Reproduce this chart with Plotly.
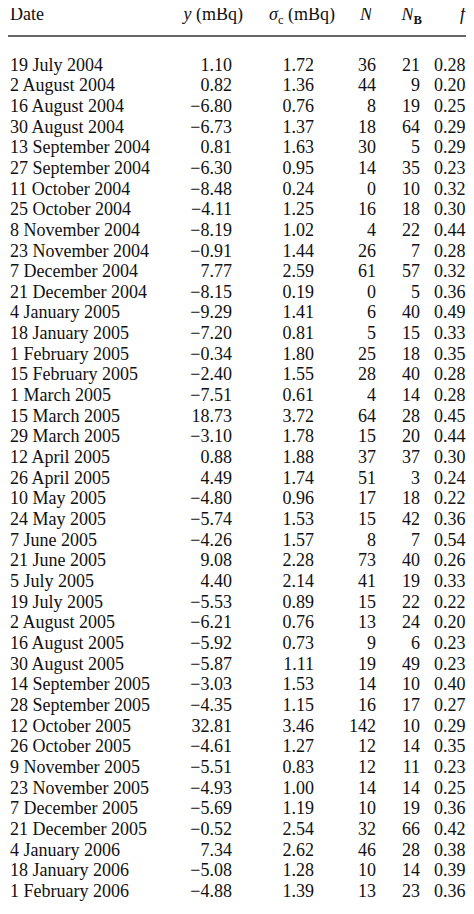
import plotly.graph_objects as go

dates = ["19 July 2004", "2 August 2004", "16 August 2004", "30 August 2004", "13 September 2004",
         "27 September 2004", "11 October 2004", "25 October 2004", "8 November 2004", "23 November 2004",
         "7 December 2004", "21 December 2004", "4 January 2005", "18 January 2005", "1 February 2005",
         "15 February 2005", "1 March 2005", "15 March 2005", "29 March 2005", "12 April 2005",
         "26 April 2005", "10 May 2005", "24 May 2005", "7 June 2005", "21 June 2005", "5 July 2005",
         "19 July 2005", "2 August 2005", "16 August 2005", "30 August 2005", "14 September 2005",
         "28 September 2005", "12 October 2005", "26 October 2005", "9 November 2005",
         "23 November 2005", "7 December 2005", "21 December 2005", "4 January 2006",
         "18 January 2006", "1 February 2006"]
y_vals = [1.10, 0.82, -6.80, -6.73, 0.81, -6.30, -8.48, -4.11, -8.19, -0.91, 7.77, -8.15, -9.29,
          -7.20, -0.34, -2.40, -7.51, 18.73, -3.10, 0.88, 4.49, -4.80, -5.74, -4.26, 9.08, 4.40,
          -5.53, -6.21, -5.92, -5.87, -3.03, -4.35, 32.81, -4.61, -5.51, -4.93, -5.69, -0.52, 7.34,
          -5.08, -4.88]
sigma_c = [1.72, 1.36, 0.76, 1.37, 1.63, 0.95, 0.24, 1.25, 1.02, 1.44, 2.59, 0.19, 1.41, 0.81,
           1.80, 1.55, 0.61, 3.72, 1.78, 1.88, 1.74, 0.96, 1.53, 1.57, 2.28, 2.14, 0.89, 0.76, 0.73,
           1.11, 1.53, 1.15, 3.46, 1.27, 0.83, 1.00, 1.19, 2.54, 2.62, 1.28, 1.39]
n_counts = [36, 44, 8, 18, 30, 14, 0, 16, 4, 26, 61, 0, 6, 5, 25, 28, 4, 64, 15, 37, 51, 17, 15, 8,
            73, 41, 15, 13, 9, 19, 14, 16, 142, 12, 12, 14, 10, 32, 46, 10, 13]
n_b = [21, 9, 19, 64, 5, 35, 10, 18, 22, 7, 57, 5, 40, 15, 18, 40, 14, 28, 20, 37, 3, 18, 42, 7,
       40, 19, 22, 24, 6, 49, 10, 17, 10, 14, 11, 14, 19, 66, 28, 14, 23]
f_vals = [0.283, 0.204, 0.255, 0.297, 0.296, 0.239, 0.328, 0.304, 0.448, 0.280, 0.323, 0.368,
          0.497, 0.335, 0.354, 0.283, 0.280, 0.459, 0.444, 0.301, 0.243, 0.227, 0.369, 0.542,
          0.263, 0.331, 0.221, 0.202, 0.238, 0.238, 0.401, 0.279, 0.290, 0.355, 0.234, 0.259,
          0.360, 0.426, 0.381, 0.390, 0.368]
headers = ["Date", "<i>y</i> (mBq)", "<i>σ</i><sub>c</sub> (mBq)", "<i>N</i>",
           "<i>N</i><sub><b>B</b></sub>", "<i>f</i>"]

rows = list(range(len(dates)))
fmt = lambda v: f"{v:.2f}".replace("-", "−")
font = dict(family="Liberation Serif", size=18, color="#111")

# column anchors (x pixel, text position)
cols = [
    (2, "middle right", dates),
    (224, "middle left", [fmt(v) for v in y_vals]),
    (306, "middle left", [fmt(v) for v in sigma_c]),
    (368, "middle left", [str(v) for v in n_counts]),
    (412, "middle left", [str(v) for v in n_b]),
    (426, "middle right", [f"{v:.3f}" for v in f_vals]),
]
head_x = [2, 235, 327, 364, 414, 452]
head_pos = ["middle right", "middle left", "middle left", "middle left", "middle left", "middle right"]

fig = go.Figure()
for x, pos, texts in cols:
    fig.add_trace(go.Scatter(x=[x] * len(rows), y=rows, text=texts, mode="text",
                             textposition=pos, textfont=font, hoverinfo="skip", cliponaxis=False))
fig.add_trace(go.Scatter(x=head_x, y=[-2.45] * 6, text=headers, mode="text",
                         textposition=head_pos, textfont=font, hoverinfo="skip", cliponaxis=False))
fig.add_shape(type="line", x0=0, x1=474, y0=-1.45, y1=-1.45, line=dict(color="#333", width=1.5))

fig.update_layout(
    width=474, height=914, margin=dict(l=0, r=0, t=0, b=0),
    plot_bgcolor="white", paper_bgcolor="white", showlegend=False,
    xaxis=dict(range=[0, 474], visible=False),
    yaxis=dict(range=[41.43, -2.81], visible=False),
)
fig.write_html("out.html")
